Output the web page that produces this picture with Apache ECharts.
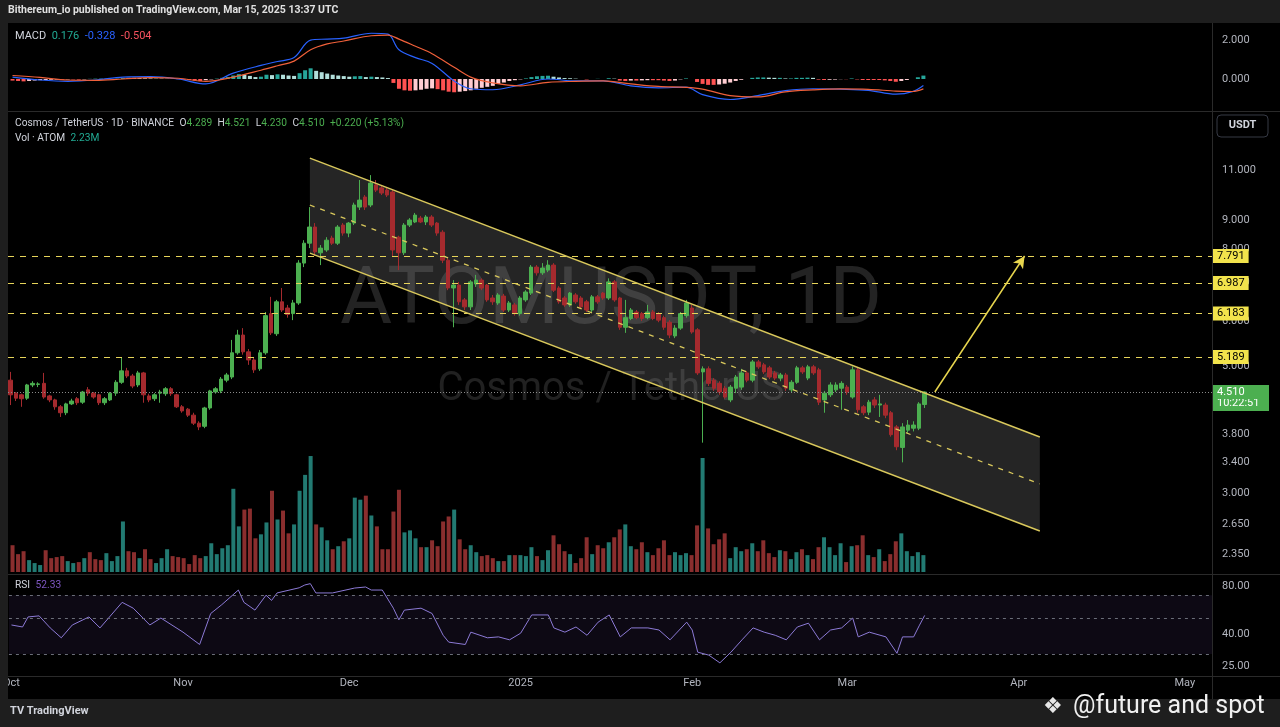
<!DOCTYPE html>
<html lang="en">
<head>
<meta charset="UTF-8">
<title>ATOMUSDT 1D</title>
<script src="https://cdn.jsdelivr.net/npm/echarts@6/dist/echarts.min.js"></script>
<style>
html, body { margin: 0; padding: 0; background: #000; }
#main { width: 1280px; height: 727px; }
</style>
</head>
<body>
<div id="main"></div>
<script>
var DAY = 86400000;
var start = Date.UTC(2024, 9, 1);
var FONT = 'Roboto, "Noto Sans", sans-serif';

// daily candles, Oct 1 2024 .. Mar 15 2025 : [open, close, low, high]
var candles = [
  [4.73,4.46,4.28,4.89],[4.49,4.40,4.35,4.51],[4.46,4.39,4.25,4.48],[4.40,4.64,4.37,4.66],[4.64,4.67,4.60,4.71],
  [4.65,4.66,4.60,4.69],[4.67,4.42,4.39,4.87],[4.44,4.37,4.33,4.46],[4.37,4.25,4.20,4.39],[4.25,4.15,4.08,4.28],
  [4.15,4.30,4.11,4.32],[4.30,4.35,4.28,4.39],[4.39,4.32,4.28,4.42],[4.33,4.51,4.30,4.53],[4.55,4.49,4.44,4.60],
  [4.49,4.42,4.39,4.51],[4.46,4.32,4.28,4.48],[4.32,4.39,4.28,4.42],[4.37,4.49,4.35,4.51],[4.49,4.69,4.44,4.73],
  [4.69,4.91,4.66,5.19],[4.91,4.81,4.77,4.97],[4.81,4.62,4.58,4.85],[4.64,4.87,4.60,4.91],[4.87,4.46,4.32,4.89],
  [4.44,4.37,4.33,4.48],[4.39,4.46,4.35,4.49],[4.49,4.51,4.32,4.55],[4.48,4.57,4.44,4.60],[4.57,4.48,4.44,4.60],
  [4.46,4.25,4.23,4.48],[4.25,4.18,4.15,4.28],[4.21,4.11,4.08,4.23],[4.11,3.98,3.95,4.15],[3.98,3.92,3.87,4.01],
  [3.93,4.23,3.90,4.25],[4.23,4.53,4.20,4.55],[4.51,4.57,4.48,4.60],[4.53,4.75,4.49,4.79],[4.73,4.83,4.69,4.87],
  [4.79,5.28,4.75,5.56],[5.28,5.67,5.24,5.79],[5.67,5.30,5.24,5.83],[5.30,5.13,5.03,5.36],[5.13,4.93,4.87,5.19],
  [4.95,5.28,4.91,5.34],[5.28,6.13,5.24,6.22],[6.18,5.72,5.67,6.61],[5.70,6.48,5.65,6.53],[6.48,6.27,6.22,6.85],
  [6.32,6.16,6.08,6.40],[6.18,6.45,6.02,6.53],[6.45,7.57,6.40,7.66],[7.57,8.20,7.45,8.30],[8.20,8.75,8.04,9.48],
  [8.75,7.92,7.79,8.89],[7.89,8.04,7.51,8.14],[7.98,8.30,7.92,8.40],[8.37,8.20,8.14,8.45],[8.20,8.75,8.14,8.82],
  [8.82,8.54,8.45,8.89],[8.54,8.89,8.40,8.93],[8.89,9.56,8.82,9.65],[9.48,9.75,9.37,10.57],[9.87,9.48,9.37,9.95],
  [9.56,10.44,9.48,10.78],[10.36,10.15,10.07,10.57],[10.24,10.03,9.95,10.36],[10.15,9.95,9.87,10.24],[10.07,7.98,7.79,10.15],
  [8.40,7.89,7.36,8.45],[7.89,8.82,7.82,8.89],[8.82,9.00,8.75,9.07],[8.93,9.18,8.89,9.26],[9.07,8.93,8.89,9.15],
  [8.93,9.11,8.82,9.18],[9.11,8.82,8.75,9.18],[8.89,8.54,8.45,8.93],[8.57,7.66,7.57,8.64],[7.66,6.85,6.79,7.72],
  [6.85,6.93,5.85,7.07],[6.93,6.48,6.40,7.02],[6.53,6.35,6.27,6.58],[6.35,7.02,6.27,7.07],[6.96,7.07,6.88,7.22],
  [7.07,6.85,6.79,7.12],[6.93,6.53,6.48,6.96],[6.58,6.48,6.40,6.66],[6.45,6.66,6.40,6.71],[6.63,6.27,6.22,6.69],
  [6.27,6.45,6.22,6.50],[6.40,6.18,6.13,6.45],[6.18,6.58,6.13,6.63],[6.53,6.74,6.48,6.79],[6.71,7.45,6.66,7.51],
  [7.45,7.28,7.20,7.51],[7.28,7.42,7.22,7.57],[7.36,7.51,7.30,7.66],[7.51,6.79,6.74,7.57],[6.85,6.48,6.43,6.90],
  [6.58,6.40,6.35,6.63],[6.40,6.71,6.35,6.74],[6.66,6.48,6.43,6.71],[6.58,6.35,6.30,6.63],[6.48,6.27,6.22,6.53],
  [6.27,6.61,6.22,6.66],[6.61,6.48,6.43,6.66],[6.71,6.58,6.53,6.74],[6.58,7.02,6.53,7.12],[7.02,6.53,6.48,7.07],
  [6.58,5.85,5.79,6.61],[5.85,6.08,5.72,6.53],[6.06,6.27,6.02,6.32],[6.22,6.08,6.04,6.27],[6.18,6.06,6.00,6.22],
  [6.08,6.22,6.04,6.40],[6.22,6.06,6.02,6.27],[6.18,6.02,5.97,6.22],[6.08,5.85,5.79,6.13],[5.97,5.67,5.60,6.02],
  [5.65,5.83,5.60,5.90],[5.83,6.18,5.79,6.22],[6.13,6.45,6.08,6.53],[6.32,5.74,5.70,6.40],[5.79,4.87,4.83,5.83],
  [4.89,4.95,3.68,5.00],[4.95,4.67,4.62,5.00],[4.73,4.58,4.53,4.77],[4.67,4.51,4.46,4.71],[4.58,4.42,4.39,4.62],
  [4.37,4.60,4.33,4.64],[4.58,4.79,4.49,4.83],[4.60,4.87,4.55,4.95],[4.87,4.73,4.69,4.91],[4.73,5.09,4.69,5.13],
  [5.09,4.99,4.95,5.13],[5.03,4.89,4.85,5.07],[4.97,4.79,4.75,5.01],[4.87,4.77,4.73,4.91],[4.77,4.83,4.71,4.87],
  [4.83,4.58,4.53,4.87],[4.55,4.69,4.51,4.73],[4.69,4.97,4.66,5.01],[4.97,4.89,4.85,5.01],[4.77,4.99,4.73,5.03],
  [4.99,4.87,4.83,5.03],[4.93,4.33,4.28,4.97],[4.37,4.49,4.15,4.53],[4.46,4.64,4.42,4.69],[4.55,4.64,4.51,4.69],
  [4.58,4.67,4.20,4.71],[4.60,4.51,4.46,4.64],[4.42,4.93,4.39,5.00],[4.93,4.20,4.15,4.97],[4.25,4.15,4.11,4.28],
  [4.16,4.33,4.11,4.37],[4.37,4.28,4.23,4.42],[4.28,4.30,4.08,4.46],[4.28,4.11,4.06,4.32],[4.15,3.80,3.77,4.18],
  [3.92,3.62,3.57,3.95],[3.61,3.92,3.40,3.98],[3.87,3.95,3.83,4.03],[3.90,3.95,3.85,4.01],[3.90,4.30,3.87,4.33],
  [4.289,4.510,4.230,4.521]
];

// daily volume, millions ATOM
var volumes = [
  3.54,2.36,2.75,1.57,1.18,0.92,2.88,1.83,1.97,2.10,
  1.44,1.18,1.31,1.83,2.62,1.70,1.57,2.49,1.44,2.10,
  6.68,2.75,2.62,1.83,3.01,1.70,1.18,1.83,3.01,2.10,
  1.97,1.83,1.05,2.23,1.83,2.10,3.80,2.36,3.14,3.54,
  11.00,6.03,8.25,8.38,4.45,4.98,6.55,10.74,6.94,8.12,
  5.11,6.29,10.74,12.84,15.33,6.29,5.90,4.19,3.01,3.41,
  4.06,4.45,9.83,9.56,10.09,7.47,6.03,3.01,3.01,7.99,
  10.87,5.24,5.50,4.45,3.28,3.28,4.19,3.41,6.68,7.34,
  8.25,4.32,3.01,3.54,2.62,2.10,2.23,1.83,1.44,1.44,
  2.23,2.23,2.23,2.10,3.28,2.10,1.57,2.88,4.85,3.67,
  2.75,2.36,1.18,1.83,4.59,2.36,3.54,3.14,3.93,4.59,
  5.63,6.29,3.41,3.01,3.93,2.62,2.23,3.14,4.19,2.23,
  2.62,2.23,2.49,2.23,6.16,15.07,5.76,3.67,4.32,5.11,
  1.83,3.28,2.75,3.01,3.80,2.75,4.19,2.49,1.97,2.88,
  2.75,1.70,2.62,3.01,2.23,1.70,3.28,4.59,3.28,2.23,
  3.80,1.31,3.41,3.54,4.85,2.23,1.97,3.01,1.44,2.36,
  4.06,5.11,2.75,2.10,2.62,2.23
];

// MACD histogram, one bar per day
var macdHist = [
  -0.08,-0.10,-0.12,-0.10,-0.08,-0.06,-0.05,-0.04,-0.03,-0.03,-0.02,
  -0.02,-0.03,-0.02,0.01,0.02,0.02,0.01,0.00,0.02,0.05,
  0.07,0.06,0.05,0.04,0.03,0.03,0.02,0.02,0.01,-0.01,
  -0.04,-0.06,-0.08,-0.10,-0.06,-0.02,0.02,0.06,0.10,0.18,
  0.25,0.22,0.16,0.10,0.12,0.22,0.20,0.24,0.22,0.18,
  0.16,0.30,0.45,0.55,0.42,0.35,0.28,0.22,0.18,0.15,
  0.12,0.14,0.15,0.10,0.12,0.10,0.08,0.05,-0.20,-0.50,
  -0.58,-0.60,-0.58,-0.55,-0.50,-0.48,-0.52,-0.58,-0.65,-0.68,
  -0.65,-0.62,-0.58,-0.50,-0.45,-0.40,-0.35,-0.25,-0.18,-0.10,
  -0.06,-0.02,0.03,0.10,0.14,0.16,0.17,0.12,0.08,0.05,
  0.04,0.02,0.00,-0.02,0.00,0.01,0.00,0.04,0.02,-0.08,
  -0.10,-0.08,-0.08,-0.07,-0.06,-0.06,-0.06,-0.08,-0.10,-0.08,
  -0.02,0.03,0.00,-0.15,-0.25,-0.30,-0.30,-0.28,-0.24,-0.18,
  -0.10,-0.04,0.00,0.06,0.08,0.08,0.07,0.06,0.06,0.03,
  0.03,0.06,0.06,0.07,0.06,-0.03,-0.05,-0.04,-0.03,-0.01,
  -0.01,0.03,-0.02,-0.05,-0.05,-0.05,-0.05,-0.07,-0.10,-0.14,
  -0.10,-0.05,0.00,0.09,0.176
];

// MACD / signal lines read at these day offsets
var macdDays   = [0,5,10,15,20,25,30,35,40,45,48,51,54,57,60,65,68,70,73,76,80,83,87,92,97,102,107,112,117,122,125,130,135,140,145,150,155,160,163,165];
var macdLine   = [0.10,-0.05,-0.12,-0.05,0.10,0.12,0.00,-0.25,0.30,0.70,0.90,1.10,2.00,2.05,2.10,2.35,2.30,1.50,1.10,0.80,-0.10,-0.50,-0.55,-0.30,0.00,-0.10,-0.10,-0.35,-0.45,-0.42,-0.80,-1.05,-0.85,-0.60,-0.50,-0.52,-0.58,-0.78,-0.65,-0.328];
var signalLine = [0.18,0.08,-0.05,-0.07,0.00,0.07,0.04,-0.12,0.10,0.45,0.68,0.92,1.50,1.80,1.95,2.22,2.25,2.05,1.68,1.30,0.60,0.10,-0.20,-0.35,-0.17,-0.12,-0.10,-0.25,-0.38,-0.43,-0.52,-0.85,-0.92,-0.66,-0.56,-0.51,-0.53,-0.62,-0.64,-0.504];

// RSI read at these day offsets
var rsiDays = [0,2,3,5,7,9,11,14,16,20,22,25,27,31,34,36,38,41,42,44,46,47,48,52,53,54,55,58,62,64,65,67,69,70,71,74,76,78,79,82,83,86,88,90,92,94,97,98,100,102,104,106,108,110,112,115,117,119,122,123,124,126,128,130,132,134,136,138,140,142,144,146,148,150,152,153,155,158,160,161,163,164,165];
var rsiVals = [45.6,44.3,51.2,52.0,43.7,37.9,45.6,51.2,43.7,63.2,58.1,45.6,50.4,41.1,34.4,53.8,61.1,75.5,63.2,56.5,70.1,65.0,72.4,78.0,81.2,82.8,72.4,72.4,77.7,78.9,75.5,75.5,58.1,49.1,56.5,58.1,53.8,39.3,35.6,34.4,41.1,37.9,38.4,36.8,40.5,52.7,52.7,43.7,41.1,44.3,39.3,47.5,52.7,38.4,43.7,43.7,42.4,36.8,47.5,42.4,30.8,29.5,26.4,30.8,36.8,43.7,41.1,39.3,36.8,44.3,46.8,36.8,42.4,43.7,50.4,38.4,41.1,38.4,30.3,38.4,38.4,45.0,52.33];

var levels = [7.791, 6.987, 6.183, 5.189];
var lastPrice = 4.510;
var priceTicks = [2.35, 2.65, 3.0, 3.4, 3.8, 5, 6, 7, 8, 9, 11];
var macdTicks = [0, 2];
var rsiTicks = [25, 40, 80];
var rsiBands = [70, 50, 30];

// descending channel drawn on the chart
var chanTime  = [Date.UTC(2024,10,24,1), Date.UTC(2025,3,4,20)];
var chanUpper = [11.54, 3.764];
var chanMid   = [9.56, 3.118];
var chanLower = [7.88, 2.58];
var arrowTime  = [Date.UTC(2025,2,16,21), Date.UTC(2025,3,2,2)];
var arrowPrice = [4.51, 7.79];

var X_MIN = Date.UTC(2024,8,30,13);
var X_MAX = Date.UTC(2025,4,5,22);

var dates = candles.map(function (c, i) { return start + i * DAY; });
function dayTime(d) { return start + d * DAY; }

var UP = '#4caf50', DOWN = '#a52a2e', CHAN = '#d9c85c', LEVEL = '#e6d45a';

function histColor(i) {
  var v = macdHist[i], p = i > 0 ? macdHist[i - 1] : v;
  if (v >= 0) return v >= p ? '#26a69a' : '#b2dfdb';
  return v <= p ? '#ff5252' : '#ffcdd2';
}

function timeAxis(gi, labels) {
  return {
    type: 'time', gridIndex: gi, min: X_MIN, max: X_MAX,
    splitNumber: 7, minInterval: 28 * DAY, maxInterval: 32 * DAY,
    axisLine: { show: false }, axisTick: { show: false }, splitLine: { show: false },
    axisLabel: labels ? {
      color: '#b2b5be', fontSize: 11, fontFamily: FONT, margin: 3,
      showMinLabel: false, showMaxLabel: false,
      formatter: { year: '{yyyy}', month: '{MMM}', day: '{d}' }
    } : { show: false }
  };
}

function sideAxis(gi, type, min, max, ticks, digits) {
  return {
    type: type, gridIndex: gi, position: 'right', min: min, max: max,
    axisLine: { show: false }, axisTick: { show: false }, splitLine: { show: false },
    axisLabel: ticks ? {
      customValues: ticks, color: '#b2b5be', fontSize: 11, fontFamily: FONT, margin: 10,
      formatter: function (v) { return Number(v).toFixed(digits); }
    } : { show: false }
  };
}

function boxLabel(str, bg, fg, pad, valign) {
  var l = {
    show: true, position: 'end', distance: 1, formatter: str,
    color: fg, backgroundColor: bg, padding: pad, fontSize: 11, fontFamily: FONT
  };
  if (valign) l.verticalAlign = valign;
  return l;
}

var levelLines = levels.map(function (v) {
  return { yAxis: v, lineStyle: { color: LEVEL, type: [6, 6], width: 1 },
    label: boxLabel(v.toFixed(3), '#f2e34c', '#000', [2, 4, 1, 4]) };
});
// countdown box under the last price box
var countdown = boxLabel('10:22:51', '#4caf50', '#fff', [6, 4, 2, 4], 'top');
countdown.width = 48;
levelLines.push({ yAxis: lastPrice, lineStyle: { color: '#8a8a8a', type: [1, 2], width: 1 }, label: countdown });
var priceBox = boxLabel(lastPrice.toFixed(3), '#4caf50', '#fff', [2, 4, 1, 4]);
priceBox.width = 48;
levelLines.push({ yAxis: lastPrice, lineStyle: { color: 'rgba(0,0,0,0)', width: 0 }, label: priceBox });

function chanSeries(vals, dashed, extra) {
  var s = {
    type: 'line', xAxisIndex: 1, yAxisIndex: 1, z: 5, silent: true, showSymbol: false,
    data: [[chanTime[0], vals[0]], [chanTime[1], vals[1]]],
    lineStyle: { color: CHAN, width: dashed ? 1.3 : 1.5, type: dashed ? [5, 6] : 'solid' }
  };
  if (extra) s.markLine = extra;
  return s;
}

var text = function (x, y, str, rich, extra) {
  var el = { type: 'text', x: x, y: y, z: 100, silent: true,
    style: { text: str, rich: rich || {}, fill: '#d1d4dc', fontSize: 11, fontFamily: FONT, verticalAlign: 'top' } };
  if (extra) Object.keys(extra).forEach(function (k) { el.style[k] = extra[k]; });
  return el;
};
var sep = function (x1, y1, x2, y2) {
  return { type: 'line', z: 60, silent: true, shape: { x1: x1, y1: y1, x2: x2, y2: y2 },
    style: { stroke: '#2a2a2a', lineWidth: 1 } };
};
function rs(color, size) { return { fill: color, fontSize: size || 11, fontFamily: FONT }; }

var option = {
  backgroundColor: '#000',
  animation: false,
  useUTC: true,
  textStyle: { fontFamily: FONT },
  grid: [
    { left: 8, width: 1204, top: 27, height: 83 },
    { left: 8, width: 1204, top: 112, height: 461 },
    { left: 8, width: 1204, top: 440, height: 132 },
    { left: 8, width: 1204, top: 575, height: 100 }
  ],
  xAxis: [timeAxis(0, false), timeAxis(1, false), timeAxis(2, false), timeAxis(3, true)],
  yAxis: [
    sideAxis(0, 'value', -1.59, 2.67, macdTicks, 3),
    sideAxis(1, 'log', 2.18, 13.89, priceTicks, 3),
    sideAxis(2, 'value', 0, 17.45, null, 0),
    sideAxis(3, 'log', 22.15, 93.8, rsiTicks, 2)
  ],
  graphic: [
    { type: 'text', x: 611, y: 303, z: 1, silent: true,
      style: { text: 'ATOMUSDT, 1D', fontSize: 80, fontFamily: FONT, fill: '#232323', align: 'center', verticalAlign: 'middle' } },
    { type: 'text', x: 611, y: 390, z: 1, silent: true,
      style: { text: 'Cosmos / TetherUS', fontSize: 40, fontFamily: FONT, fill: '#212121', align: 'center', verticalAlign: 'middle' } },
    { type: 'rect', z: 50, silent: true, shape: { x: 0, y: 0, width: 1280, height: 23 }, style: { fill: '#1e1e1e' } },
    { type: 'rect', z: 50, silent: true, shape: { x: 0, y: 699, width: 1280, height: 28 }, style: { fill: '#1e1e1e' } },
    { type: 'rect', z: 50, silent: true, shape: { x: 0, y: 0, width: 8, height: 727 }, style: { fill: '#1e1e1e' } },
    sep(8, 111.5, 1280, 111.5), sep(8, 574.5, 1280, 574.5), sep(8, 676.5, 1280, 676.5), sep(1212.5, 23, 1212.5, 699),
    text(8, 5, 'Bithereum_io published on TradingView.com, Mar 15, 2025 13:37 UTC', null, { fill: '#e0e0e0', fontWeight: 'bold', fontSize: 10.5 }),
    text(15, 31, '{l|MACD}  {a|0.176}  {b|-0.328}  {c|-0.504}', {
      l: rs('#d1d4dc'), a: rs('#22ab94'), b: rs('#2962ff'), c: rs('#f7525f') }),
    text(15, 118, '{l|Cosmos / TetherUS · 1D · BINANCE}  {l|O}{g|4.289}  {l|H}{g|4.521}  {l|L}{g|4.230}  {l|C}{g|4.510}  {g|+0.220 (+5.13%)}', {
      l: rs('#d1d4dc', 10.2), g: rs('#4caf50', 10.2) }),
    text(15, 133, '{l|Vol · ATOM}  {t|2.23M}', { l: rs('#d1d4dc', 10.2), t: rs('#22ab94', 10.2) }),
    text(15, 580, '{l|RSI}  {p|52.33}', { l: rs('#d1d4dc', 10.2), p: rs('#7e57c2', 10.2) }),
    { type: 'rect', z: 100, silent: true, shape: { x: 1217, y: 115, width: 51, height: 22, r: 4 },
      style: { fill: '#000', stroke: '#363a45', lineWidth: 1 } },
    text(1242.5, 120, 'USDT', null, { align: 'center', fontWeight: 'bold', fill: '#d1d4dc' }),
    text(10, 706, '{logo|TV} TradingView', { logo: { fill: '#d1d4dc', fontWeight: 'bold', fontSize: 11, fontFamily: FONT } }, { fill: '#d1d4dc', fontWeight: 'bold' }),
    text(1043, 696, '❖', null, { fontSize: 22, fill: '#e6e6e6' }),
    text(1073, 694, '@future and spot', null, { fontSize: 25, fill: '#f0f0f0' })
  ],
  series: [
    {
      type: 'bar', xAxisIndex: 0, yAxisIndex: 0, barWidth: 4, silent: true,
      data: macdHist.map(function (v, i) { return { value: [dates[i], v], itemStyle: { color: histColor(i) } }; })
    },
    {
      type: 'line', xAxisIndex: 0, yAxisIndex: 0, showSymbol: false, smooth: 0.35, silent: true,
      data: macdDays.map(function (d, i) { return [dayTime(d), macdLine[i]]; }),
      lineStyle: { color: '#2962ff', width: 1.2 }
    },
    {
      type: 'line', xAxisIndex: 0, yAxisIndex: 0, showSymbol: false, smooth: 0.35, silent: true,
      data: macdDays.map(function (d, i) { return [dayTime(d), signalLine[i]]; }),
      lineStyle: { color: '#f0603a', width: 1.2 }
    },
    {
      type: 'custom', xAxisIndex: 1, yAxisIndex: 1, z: 2, silent: true,
      data: [[chanTime[0], chanUpper[0]]],
      encode: { x: 0, y: 1 },
      renderItem: function (params, api) {
        var pts = [[chanTime[0], chanUpper[0]], [chanTime[1], chanUpper[1]],
                   [chanTime[1], chanLower[1]], [chanTime[0], chanLower[0]]].map(function (p) { return api.coord(p); });
        return { type: 'polygon', shape: { points: pts }, style: { fill: 'rgba(170,170,170,0.22)' } };
      }
    },
    {
      type: 'bar', xAxisIndex: 2, yAxisIndex: 2, barWidth: 4, z: 1, silent: true,
      data: volumes.map(function (v, i) {
        var c = candles[i];
        return { value: [dates[i], v], itemStyle: { color: c[1] >= c[0] ? '#227a72' : '#8a2e2e' } };
      })
    },
    {
      type: 'candlestick', xAxisIndex: 1, yAxisIndex: 1, barWidth: 4, z: 3, silent: true,
      data: candles.map(function (c, i) { return [dates[i], c[0], c[1], c[2], c[3]]; }),
      itemStyle: { color: UP, color0: DOWN, borderColor: UP, borderColor0: DOWN, borderWidth: 1 },
      markLine: { symbol: ['none', 'none'], silent: true, animation: false, data: levelLines }
    },
    chanSeries(chanUpper, false, {
      symbol: ['none', 'arrow'], symbolSize: [9, 12], silent: true, animation: false,
      lineStyle: { color: '#e8d64e', width: 1.5, type: 'solid' }, label: { show: false },
      data: [[{ coord: [arrowTime[0], arrowPrice[0]] }, { coord: [arrowTime[1], arrowPrice[1]] }]]
    }),
    chanSeries(chanMid, true),
    chanSeries(chanLower, false),
    {
      type: 'line', xAxisIndex: 3, yAxisIndex: 3, showSymbol: false, silent: true,
      data: rsiDays.map(function (d, i) { return [dayTime(d), rsiVals[i]]; }),
      lineStyle: { color: '#8c7ad6', width: 1 },
      markLine: {
        symbol: ['none', 'none'], silent: true, animation: false, label: { show: false },
        data: rsiBands.map(function (v) { return { yAxis: v, lineStyle: { color: '#6a6d78', type: [3, 4], width: 1 } }; })
      },
      markArea: {
        silent: true, itemStyle: { color: 'rgba(126,87,194,0.1)' },
        data: [[{ yAxis: rsiBands[2] }, { yAxis: rsiBands[0] }]]
      }
    }
  ]
};

var chart = echarts.init(document.getElementById('main'));
chart.setOption(option);
</script>
</body>
</html>
